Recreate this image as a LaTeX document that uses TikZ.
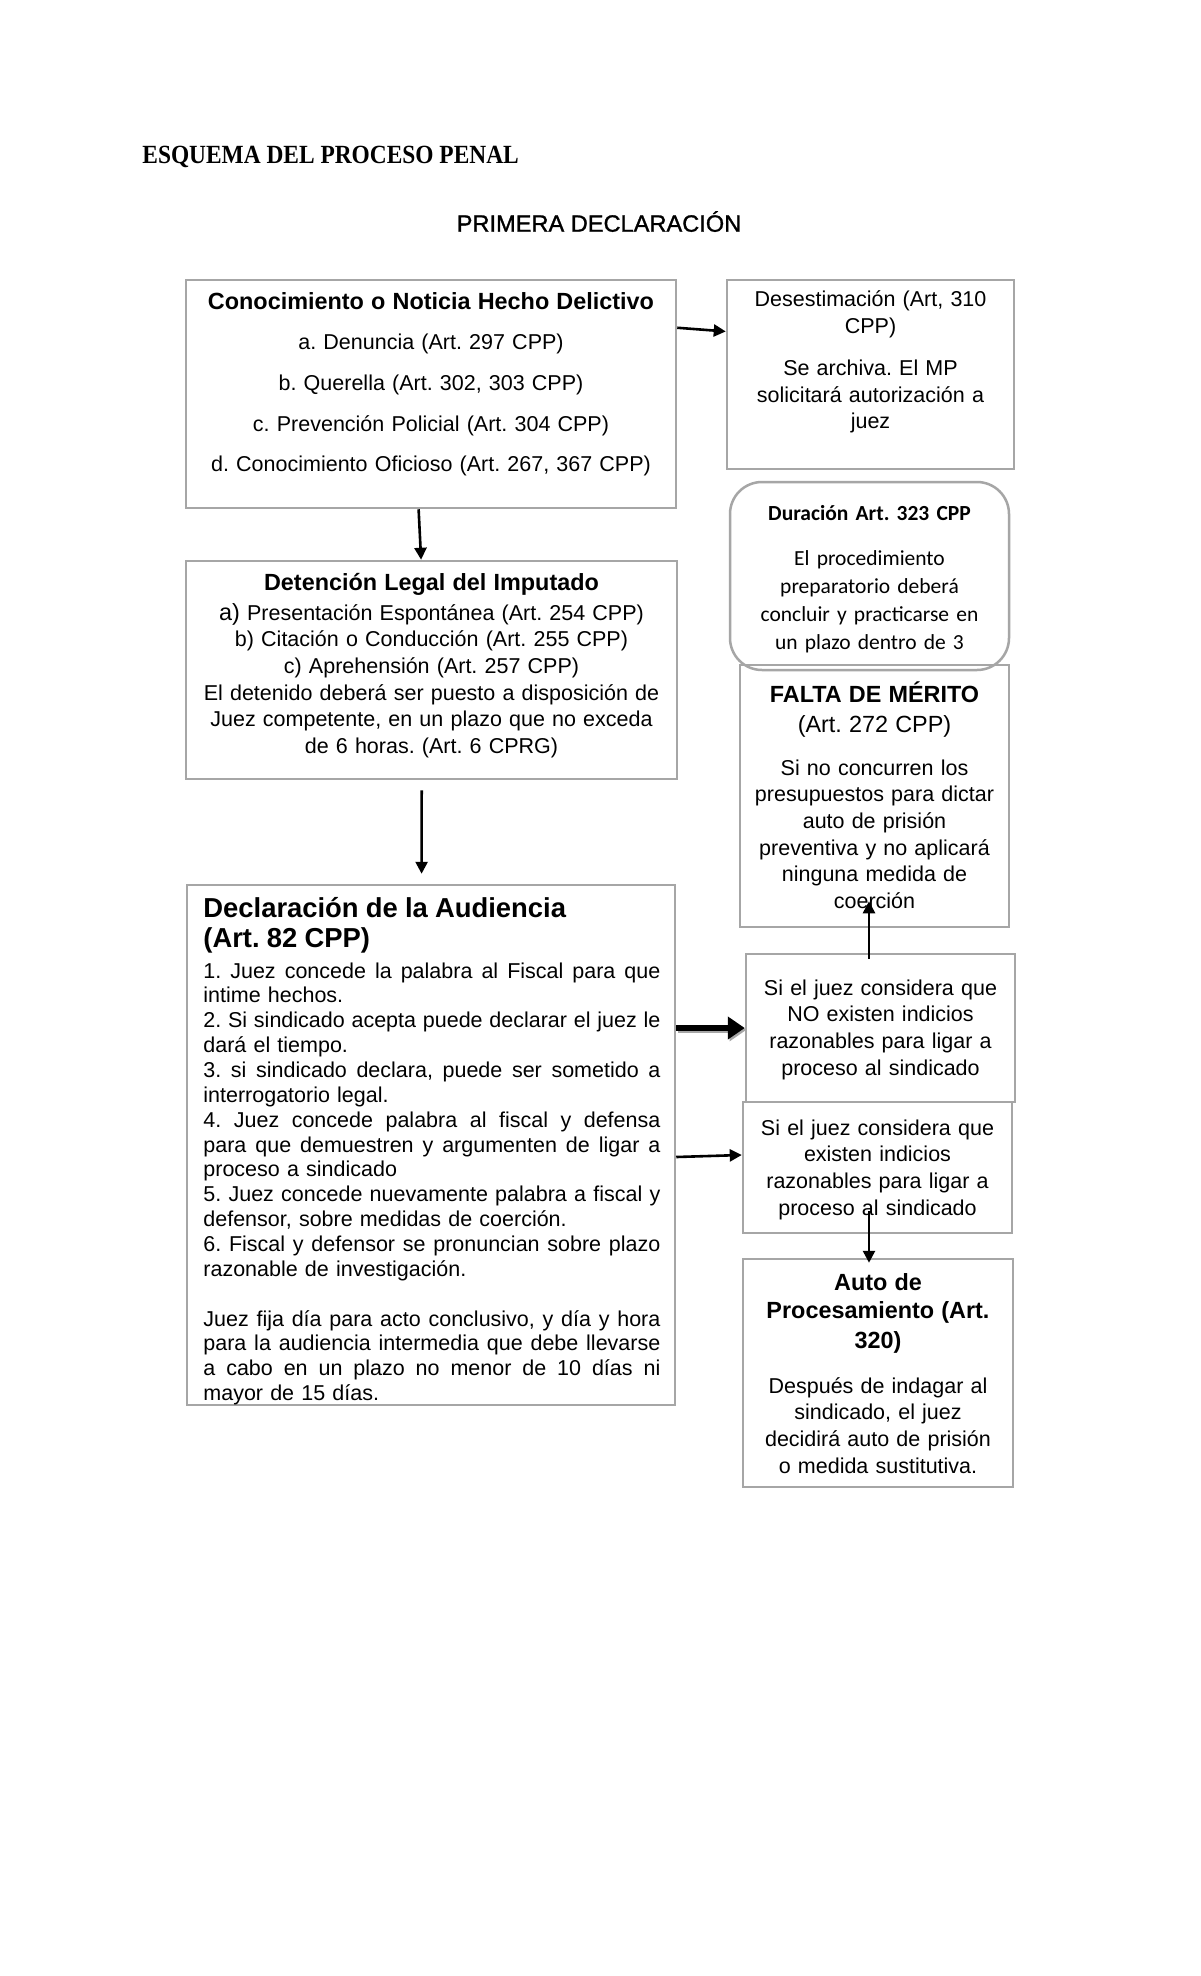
\documentclass[tikz,border=0pt]{standalone}
\usepackage{fontspec}
\setmainfont{Liberation Sans}
\newfontfamily\serifbf{Liberation Serif}
\newfontfamily\calib{Carlito}
\newfontfamily\semib[FakeBold=1.2]{Liberation Sans}
\usepackage{graphicx}
\usetikzlibrary{arrows.meta,calc}
\definecolor{boxgray}{RGB}{166,166,166}
\newcommand\JL[1]{{\spaceskip=0.278em plus 2em\relax\makebox[228.5pt][s]{#1}}}
\newcommand\LL[1]{\makebox[228.5pt][l]{#1}}
\begin{document}
\frenchspacing
\begin{tikzpicture}[x=0.5pt,y=-0.5pt,
  box/.style={draw=boxgray, line width=1.25pt, inner sep=0pt, rectangle},
  txt/.style={inner sep=0pt, anchor=base, align=center},
  arr/.style={line width=1.3pt, -{Triangle[length=6pt,width=6pt]}},
  thickarr/.style={line width=3.2pt, -{Triangle[length=8.5pt,width=11pt]}}]
\fill[white] (0,0) rectangle (1200,1976);
\useasboundingbox (0,0) rectangle (1200,1976);

% titles
\node[inner sep=0pt, anchor=base west] (title) at (142,163)
  {\serifbf\bfseries\fontsize{11.7}{14}\selectfont\scalebox{1}[1.12]{ESQUEMA DEL PROCESO PENAL}};
\node[inner sep=0pt, anchor=base] (sub) at (599,231.7)
  {\semib\fontsize{11.8}{14}\selectfont PRIMERA DECLARACIÓN};

% boxes
\node[box, minimum width=245pt, minimum height=114pt] (c1) at (431,394) {};
\node[box, minimum width=143.5pt, minimum height=94.5pt] (d1) at (870.5,374.5) {};
\node[box, minimum width=245.5pt, minimum height=109pt] (det) at (431.5,670) {};
\node[box, minimum width=244pt, minimum height=260pt] (decl) at (431,1145) {};
\node[box, minimum width=134.5pt, minimum height=131pt] (fm) at (874.5,796) {};
\node[box, rounded corners=16pt, minimum width=139.5pt, minimum height=94pt] (dur) at (869.5,576) {};
\node[box, minimum width=134.5pt, minimum height=74pt] (no) at (880.5,1028) {};
\node[box, minimum width=134.5pt, minimum height=65.5pt] (si) at (877.5,1167.5) {};
\node[box, minimum width=135pt, minimum height=114pt] (auto) at (878,1373) {};

% texts
\node[txt, text width=245pt, font=\fontsize{10.75}{20.35}\selectfont] (tc1) at (431,309)
  {{\bfseries\fontsize{11.7}{20.35}\selectfont Conocimiento o Noticia Hecho Delictivo}\\
   a. Denuncia (Art. 297 CPP)\\
   b. Querella (Art. 302, 303 CPP)\\
   c. Prevención Policial (Art. 304 CPP)\\
   d. Conocimiento Oficioso (Art. 267, 367 CPP)};

\node[txt, text width=150pt, font=\fontsize{10.75}{13.4}\selectfont] (td1) at (870.5,306.7)
  {Desestimación (Art, 310\\ CPP)\\[7.5pt]
   Se archiva. El MP\\ solicitará autorización a\\ juez};

\node[txt, text width=150pt, font=\calib\fontsize{10.75}{14.15}\selectfont] (tdur) at (869.5,520)
  {{\bfseries Duración Art. 323 CPP}\\[8.35pt]
   El procedimiento\\ preparatorio deberá\\ concluir y practicarse en\\ un plazo dentro de 3};

\node[txt, text width=245pt, font=\fontsize{10.75}{13.35}\selectfont] (tdet) at (431.5,590)
  {{\bfseries\fontsize{11.7}{13.35}\selectfont Detención Legal del Imputado}\\[1.65pt]
   {\fontsize{11.7}{13.35}\selectfont a)} Presentación Espontánea (Art. 254 CPP)\\
   b) Citación o Conducción (Art. 255 CPP)\\
   c) Aprehensión (Art. 257 CPP)\\
   El detenido deberá ser puesto a disposición de\\
   Juez competente, en un plazo que no exceda\\
   de 6 horas. (Art. 6 CPRG)};

\node[inner sep=0pt, anchor=base west, text width=228.5pt, align=left, font=\fontsize{10.75}{12.43}\selectfont] (tdecl) at (203,917)
  {{\bfseries\fontsize{13.7}{12.43}\selectfont Declaración de la Audiencia}\\[2.87pt]
   {\bfseries\fontsize{13.7}{12.43}\selectfont (Art. 82 CPP)}\\[2.77pt]
   \JL{1. Juez concede la palabra al Fiscal para que}\\
   \LL{intime hechos.}\\
   \JL{2. Si sindicado acepta puede declarar el juez le}\\
   \LL{dará el tiempo.}\\
   \JL{3. si sindicado declara, puede ser sometido a}\\
   \LL{interrogatorio legal.}\\
   \JL{4. Juez concede palabra al fiscal y defensa}\\
   \JL{para que demuestren y argumenten de ligar a}\\
   \LL{proceso a sindicado}\\
   \JL{5. Juez concede nuevamente palabra a fiscal y}\\
   \LL{defensor, sobre medidas de coerción.}\\
   \JL{6. Fiscal y defensor se pronuncian sobre plazo}\\
   \LL{razonable de investigación.}\\[12.43pt]
   \JL{Juez fija día para acto conclusivo, y día y hora}\\
   \JL{para la audiencia intermedia que debe llevarse}\\
   \JL{a cabo en un plazo no menor de 10 días ni}\\
   \LL{mayor de 15 días.}};

\node[txt, text width=160pt, font=\fontsize{10.75}{13.35}\selectfont] (tfm) at (874.5,702)
  {{\bfseries\fontsize{11.7}{13.35}\selectfont FALTA DE MÉRITO}\\[1.65pt]
   {\fontsize{11.7}{13.35}\selectfont (Art. 272 CPP)}\\[8.15pt]
   Si no concurren los\\ presupuestos para dictar\\ auto de prisión\\
   preventiva y no aplicará\\ ninguna medida de\\ coerción};

\node[txt, text width=160pt, font=\fontsize{10.75}{13.35}\selectfont] (tno) at (880.5,995)
  {Si el juez considera que\\ NO existen indicios\\ razonables para ligar a\\ proceso al sindicado};

\node[txt, text width=160pt, font=\fontsize{10.75}{13.35}\selectfont] (tsi) at (877.5,1135)
  {Si el juez considera que\\ existen indicios\\ razonables para ligar a\\ proceso al sindicado};

\node[txt, text width=160pt, font=\fontsize{10.75}{13.35}\selectfont] (tauto) at (878,1290)
  {{\bfseries\fontsize{11.7}{13.35}\selectfont Auto de}\\[0.65pt]
   {\bfseries\fontsize{11.7}{13.35}\selectfont Procesamiento (Art.}\\[1.65pt]
   {\bfseries\fontsize{11.7}{13.35}\selectfont 320)}\\[9.15pt]
   Después de indagar al\\ sindicado, el juez\\ decidirá auto de prisión\\ o medida sustitutiva.};

% connectors
\draw[arr] ([yshift=-24.5pt]c1.north east) -- ([yshift=-26.35pt]d1.north west);
\draw[arr] ([xshift=-6.2pt]c1.south) -- ([xshift=-5.2pt]det.north);
\draw[arr] ([xshift=-4.9pt,yshift=-5pt]det.south) -- ([xshift=-4.7pt,yshift=5pt]decl.north);
\draw[thickarr, draw=black!35, transform canvas={shift={(0.9pt,-0.9pt)}}] ([yshift=58.5pt]decl.east) -- (no.west);
\draw[thickarr] ([yshift=58.5pt]decl.east) -- (no.west);
\draw[arr] ([yshift=-6pt]decl.east) -- ([yshift=6.25pt]si.west);
\draw[arr] ([xshift=-5.75pt,yshift=-3pt]no.north) -- ([xshift=-2.75pt,yshift=13.5pt]fm.south);
\draw[arr] ([xshift=-4.25pt,yshift=11.5pt]si.south) -- ([xshift=-4.5pt,yshift=-2.5pt]auto.north);
\end{tikzpicture}
\end{document}
